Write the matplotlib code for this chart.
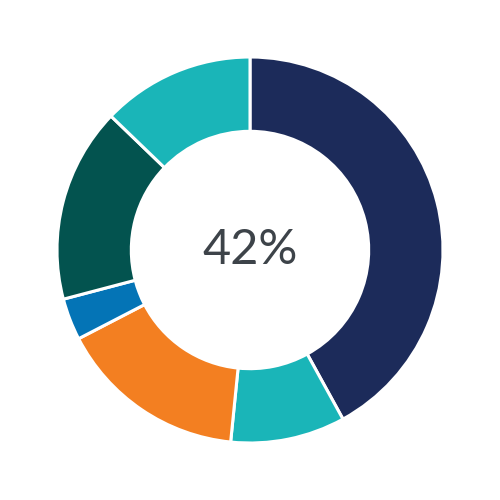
import matplotlib.pyplot as plt

# slice shares, clockwise from 12 o'clock
labels = ["Navy", "Teal", "Orange", "Blue", "Dark green", "Light teal"]
values = [42.0, 9.6, 15.8, 3.5, 16.3, 12.8]
colors = ["#1c2b5a", "#1ab5b8", "#f37f21", "#0474b6", "#03534f", "#1ab5b8"]
center_label = "42%"

fig = plt.figure(figsize=(5, 5), dpi=100)
ax = fig.add_axes([0, 0, 1, 1])

ax.pie(values, colors=colors, startangle=90, counterclock=False,
       radius=1.0,
       wedgeprops=dict(width=0.385, edgecolor="white", linewidth=2.2))

ax.text(0, 0.0, center_label, ha="center", va="center",
        fontsize=35, family="Lato", fontweight="normal", color="#3d4349")

lim = 250 / 193
ax.set_xlim(-lim, lim)
ax.set_ylim(-lim, lim)
ax.set_aspect("equal")
ax.axis("off")

fig.savefig("out.png", dpi=100, facecolor="white")
